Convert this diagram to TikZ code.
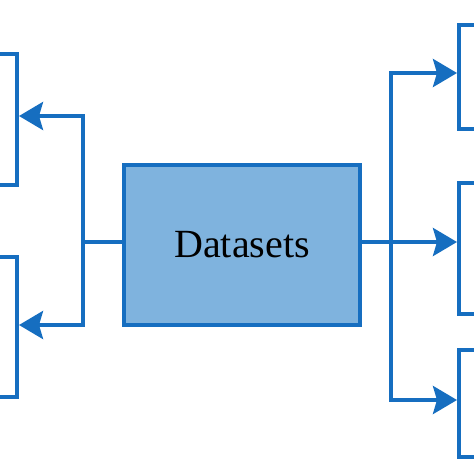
\documentclass[tikz,border=0pt]{standalone}
\usepackage{fontspec}
\setmainfont{Liberation Serif}
\usetikzlibrary{arrows.meta}
\definecolor{edgeblue}{RGB}{22,110,192}
\definecolor{fillblue}{RGB}{127,179,222}
\tikzset{
  box/.style={draw=edgeblue, line width=4pt, rectangle, inner sep=0pt},
  conn/.style={draw=edgeblue, line width=4pt},
  arr/.style={conn, -{Stealth[length=24pt,width=28pt,inset=4pt]}}
}
\begin{document}
\begin{tikzpicture}[x=1pt,y=-1pt]
\useasboundingbox (0,0) rectangle (474,474);
\clip (0,0) rectangle (474,474);
% center
\node[box, fill=fillblue, minimum width=236pt, minimum height=160pt, anchor=north west,
      font=\fontsize{40}{44}\selectfont] (ds) at (122,163) {Datasets};
% left boxes
\node[box, minimum width=80pt, minimum height=131pt, anchor=north east] (l1) at (19,52) {};
\node[box, minimum width=80pt, minimum height=140pt, anchor=north east] (l2) at (19,255) {};
% right boxes
\node[box, minimum width=80pt, minimum height=104pt, anchor=north west] (r1) at (457,23) {};
\node[box, minimum width=80pt, minimum height=131pt, anchor=north west] (r2) at (457,181) {};
\node[box, minimum width=80pt, minimum height=107pt, anchor=north west] (r3) at (457,348) {};
% left bus
\coordinate (lj) at (83,242);
\coordinate (lt) at (83,116);
\coordinate (lb) at (83,325);
\draw[conn, line cap=round] (ds.west |- lj) -- (lj);
\draw[arr] (lj) -- (lt) -- (lt -| l1.east);
\draw[arr] (lj) -- (lb) -- (lb -| l2.east);
% right bus
\coordinate (rj) at (391,242);
\coordinate (rt) at (391,73);
\coordinate (rb) at (391,400);
\draw[arr] (ds.east |- rj) -- (rj -| r2.west);
\draw[arr] (rj) -- (rt) -- (rt -| r1.west);
\draw[arr] (rj) -- (rb) -- (rb -| r3.west);
\end{tikzpicture}
\end{document}
